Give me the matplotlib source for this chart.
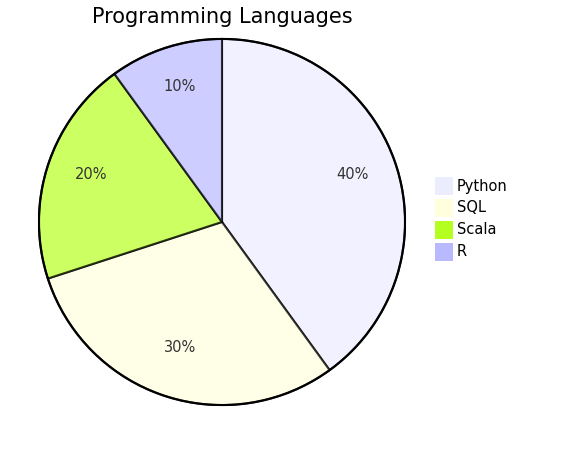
import matplotlib.pyplot as plt
from matplotlib.patches import Rectangle

# Data
labels = ["Python", "SQL", "Scala", "R"]
values = [40, 30, 20, 10]
colors = ["#ECECFF", "#FFFFDE", "#B5FF20", "#B9B9FF"]

W, H = 565, 450
fig = plt.figure(figsize=(W / 100, H / 100), dpi=100)

# pie centre (222, 222) px, radius 184 px
cx, cy, r = 222, 222, 184
ax = fig.add_axes([(cx - r) / W, (H - cy - r) / H, 2 * r / W, 2 * r / H])
wedges, texts, autotexts = ax.pie(
    values, colors=colors, startangle=90, counterclock=False,
    autopct="%d%%", pctdistance=0.75, radius=1,
    wedgeprops=dict(edgecolor="black", linewidth=1.5, alpha=0.7),
    textprops=dict(fontsize=10.5, color="#333333"))
for w in wedges:
    w.set_edgecolor((0, 0, 0, 1))
# labels sit a little higher in the original
for t in autotexts:
    x, y = t.get_position()
    t.set_position((x, y + 5 / r))
ax.add_patch(plt.Circle((0, 0), 1, fill=False, edgecolor="black", linewidth=1.6))
ax.set_xlim(-1.005, 1.005)
ax.set_ylim(-1.005, 1.005)
ax.set_aspect("equal")
ax.axis("off")

fig.text(cx / W, 1 - 17 / H, "Programming Languages", ha="center", va="center",
         fontsize=15, color="black")

# legend
for i, (lab, col) in enumerate(zip(labels, colors)):
    y = 186 + 22 * i
    fig.patches.append(Rectangle((435 / W, 1 - (y + 9) / H), 18 / W, 18 / H,
                                 transform=fig.transFigure, facecolor=col,
                                 edgecolor="none"))
    fig.text(457 / W, 1 - y / H, lab, ha="left", va="center", fontsize=10.5,
             color="black")

fig.savefig("out.png", dpi=100, facecolor="white")
